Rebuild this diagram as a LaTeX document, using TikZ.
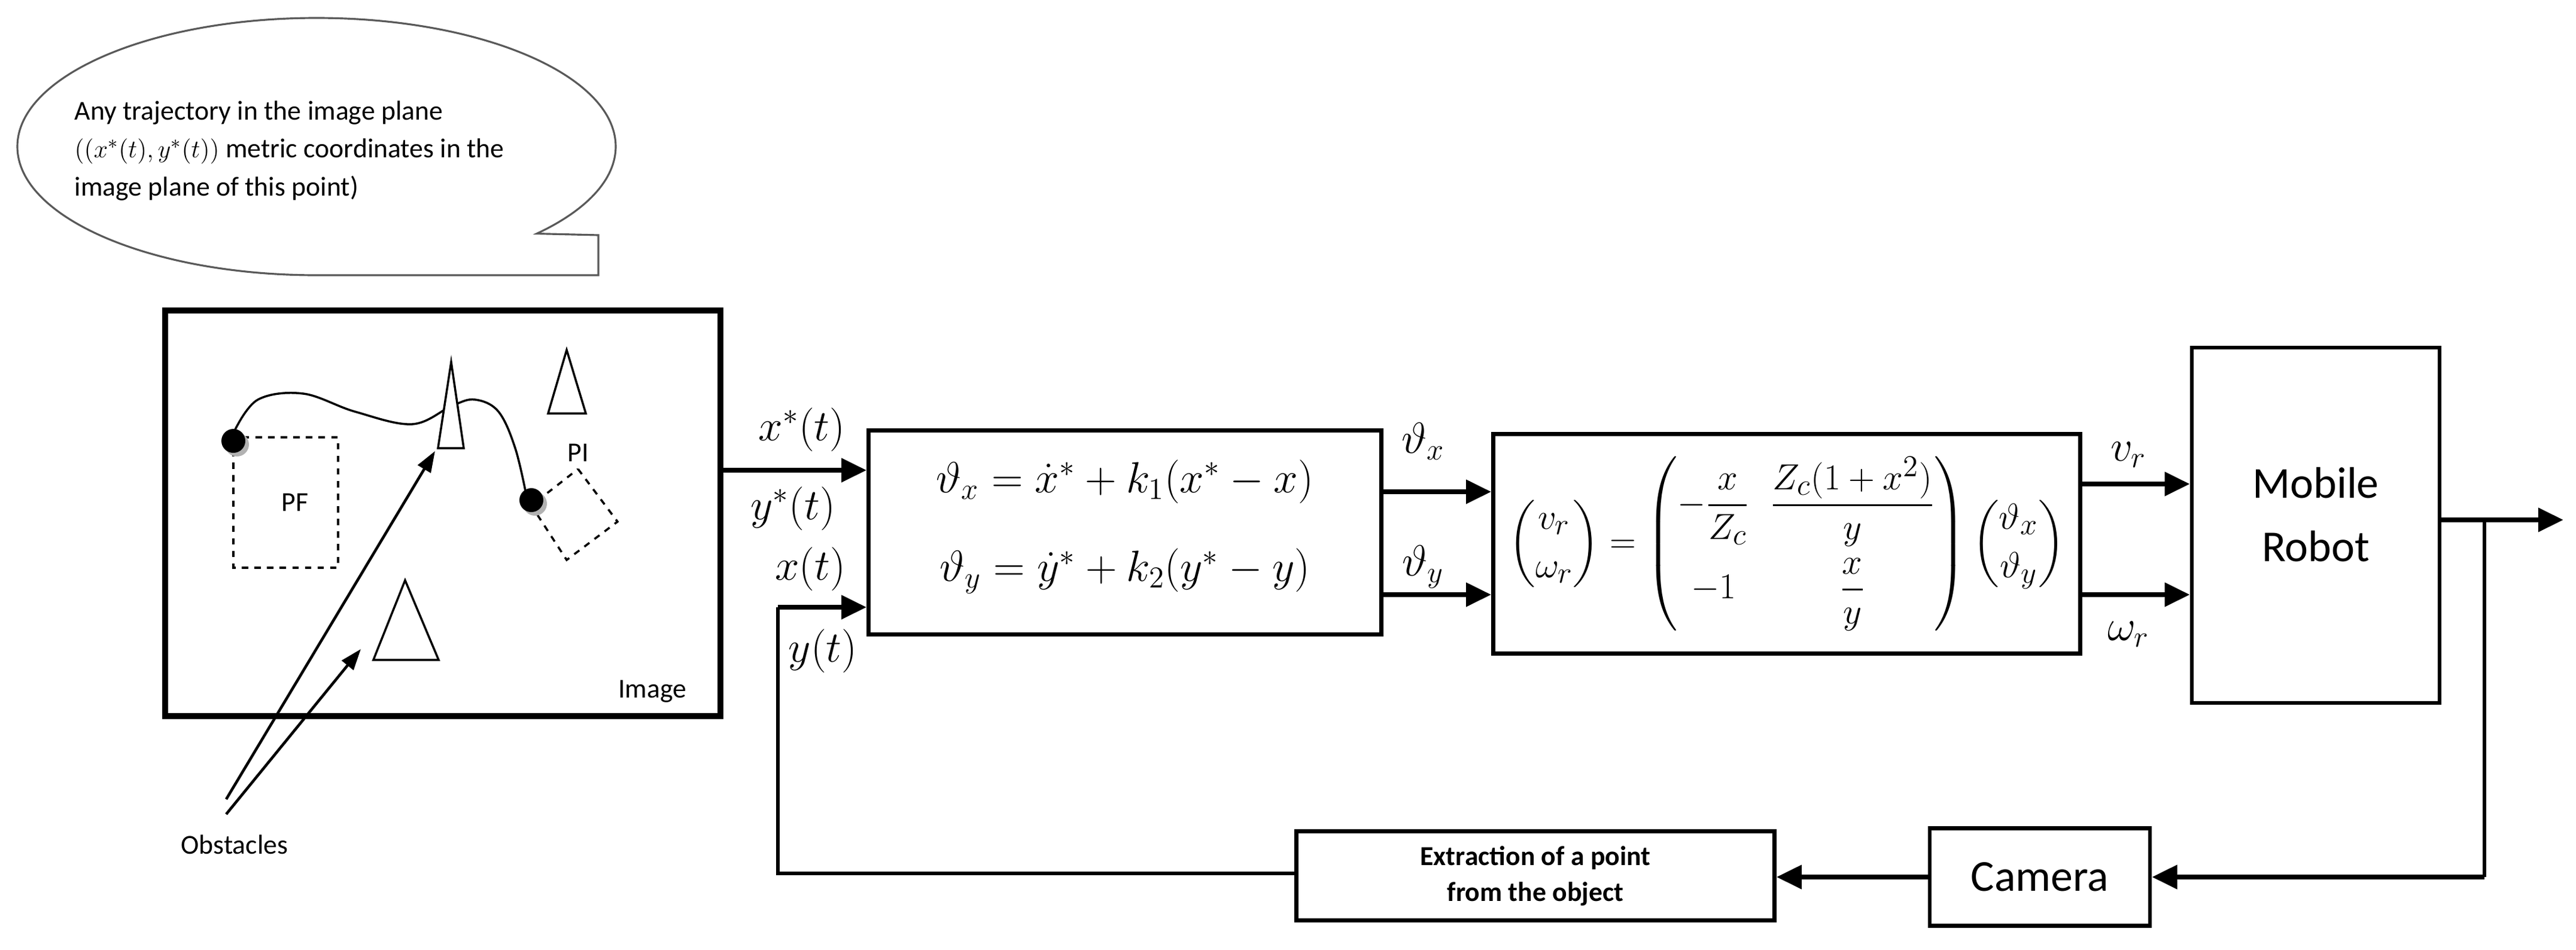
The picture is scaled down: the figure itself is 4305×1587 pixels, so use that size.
\documentclass[tikz,border=0pt]{standalone}
\usepackage{amsmath}
\usepackage{fontspec}
\setmainfont{Carlito}
\usetikzlibrary{arrows.meta}
\tikzset{
  blk/.style={draw, line width=2pt, rectangle, inner sep=0pt, align=center},
  arr/.style={line width=2.4pt, -{Triangle[length=12pt,width=11pt]}},
  fb/.style={line width=1.6pt},
  obs/.style={line width=1pt, fill=white},
  txt/.style={font=\fontsize{13}{18}\selectfont, inner sep=0pt},
  mlab/.style={font=\fontsize{21}{25}\selectfont, inner sep=0pt},
}
\begin{document}
\begin{tikzpicture}[x=0.01cm,y=-0.01cm]
\useasboundingbox (0,0) rectangle (4305,1587);
% speech bubble
\draw[gray!70!black, line width=0.9pt] (529,460) arc[start angle=90, end angle=402.6, x radius=500, y radius=215] -- (1000,393) -- (1000,460) -- cycle;
\node[txt, anchor=north west, align=left] (bub) at (124,168) {Any trajectory in the image plane\\ $((x^*(t),y^*(t))$ metric coordinates in the\\ image plane of this point)};
% image box
\node[draw, line width=2.8pt, minimum width=9.28cm, minimum height=6.78cm, inner sep=0pt] (img) at (740,858) {};
\node[txt] (imglab) at (1090,1156) {Image};
\draw[dashed, line width=1pt] (390,731) rectangle (565,949);
\node[txt] (pf) at (493,840) {PF};
\draw[dashed, line width=1pt] (966,784) -- (1032,872) -- (947,936) -- (888,845) -- cycle;
\node[txt] (pi) at (966,757) {PI};
\draw[line width=1pt] (392,720) plot[smooth, tension=0.6] coordinates {(392,720) (431,668) (507,658) (593,688) (689,709) (756,678) (794,668) (833,688) (861,749) (880,830)};
\draw[obs] (754,605) -- (775,749) -- (732,749) -- cycle;
\draw[obs] (947,585) -- (979,691) -- (916,691) -- cycle;
\draw[obs] (677,970) -- (733,1103) -- (624,1103) -- cycle;
\fill[gray!60] (396,743) circle (20);
\fill[black] (390,737) circle (20);
\fill[gray!60] (894,842) circle (20);
\fill[black] (888,836) circle (20);
\node[txt] (obst) at (392,1412) {Obstacles};
\coordinate (o1) at (378,1336);
\coordinate (o2) at (378,1361);
\coordinate (t1) at (727,754);
\coordinate (t2) at (603,1085);
\draw[line width=1.3pt, -{Triangle[length=10pt,width=7pt]}] (o1) -- (t1);
\draw[line width=1.3pt, -{Triangle[length=10pt,width=7pt]}] (o2) -- (t2);
% blocks
\node[blk, minimum width=8.56cm, minimum height=3.41cm] (b1) at (1880,890) {};
\node[font=\fontsize{20}{24}\selectfont] (e1) at (1880,805) {$\vartheta_x=\dot{x}^*+k_1(x^*-x)$};
\node[font=\fontsize{20}{24}\selectfont] (e2) at (1880,955) {$\vartheta_y=\dot{y}^*+k_2(y^*-y)$};
\node[blk, minimum width=9.8cm, minimum height=3.66cm, font=\fontsize{19}{23}\selectfont] (b2) at (2986,909)
 {$\begin{pmatrix} v_r\\ \omega_r\end{pmatrix}=\begin{pmatrix} -\dfrac{x}{Z_c} & \dfrac{Z_c(1+x^2)}{y}\\[14pt] -1 & \dfrac{x}{y}\end{pmatrix}\begin{pmatrix}\vartheta_x\\ \vartheta_y\end{pmatrix}$};
\node[blk, line width=1.8pt, minimum width=4.14cm, minimum height=5.94cm] (rob) at (3870,878) {};
\node[font=\fontsize{21}{30}\selectfont, align=center] (robt) at (3870,860) {Mobile\\ Robot};
\node[blk, line width=1.8pt, minimum width=3.68cm, minimum height=1.63cm, font=\fontsize{21}{25}\selectfont] (cam) at (3409,1466) {Camera};
\node[blk, minimum width=7.98cm, minimum height=1.48cm, font=\fontsize{13}{17}\selectfont\bfseries] (ext) at (2566,1464) {Extraction of a point\\ from the object};
% labels
\node[mlab] (lxs) at (1340,718) {$x^*(t)$};
\node[mlab] (lys) at (1325,850) {$y^*(t)$};
\node[mlab] (lx) at (1354,951) {$x(t)$};
\node[mlab] (ly) at (1375,1088) {$y(t)$};
\node[mlab] (ltx) at (2378,738) {$\vartheta_x$};
\node[mlab] (lty) at (2378,948) {$\vartheta_y$};
\node[mlab] (lvr) at (3557,760) {$v_r$};
\node[mlab] (lwr) at (3557,1060) {$\omega_r$};
% connectors
\coordinate (ya) at (0,786);
\coordinate (yb) at (0,822);
\coordinate (yc) at (0,994);
\coordinate (yd) at (0,809);
\coordinate (ye) at (0,869);
\coordinate (out) at (4284,869);
\coordinate (br) at (4152,869);
\coordinate (fb1) at (1300,1460);
\coordinate (fb2) at (1300,1015);
\draw[arr] (img.east |- ya) -- (b1.west |- ya);
\draw[arr] (b1.east |- yb) -- (b2.west |- yb);
\draw[arr] (b1.east |- yc) -- (b2.west |- yc);
\draw[arr] (b2.east |- yd) -- (rob.west |- yd);
\draw[arr] (b2.east |- yc) -- (rob.west |- yc);
\draw[arr] (rob.east |- ye) -- (out);
\draw[fb] (br) -- (br |- cam.east);
\draw[arr] (br |- cam.east) -- (cam.east);
\draw[arr] (cam.west) -- (ext.east |- cam.west);
\draw[fb] (ext.west |- fb1) -- (fb1) -- (fb2);
\draw[arr] (fb2) -- (b1.west |- fb2);
\end{tikzpicture}
\end{document}
